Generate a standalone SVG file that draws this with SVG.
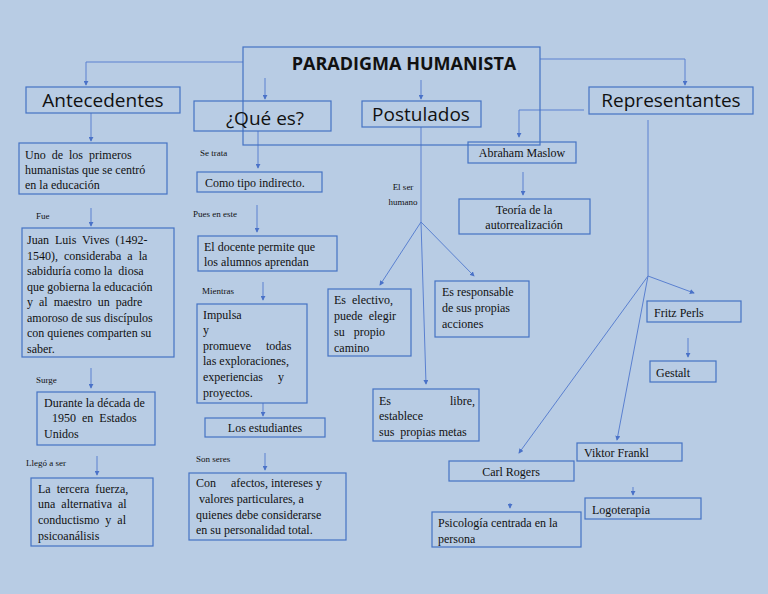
<svg xmlns="http://www.w3.org/2000/svg" width="768" height="594" viewBox="0 0 768 594">
<defs>
<marker id="a" viewBox="0 0 6 6" refX="5" refY="3" markerWidth="5" markerHeight="5" orient="auto"><path d="M0,0L6,3L0,6z" fill="#4a72c8"/></marker>
<style>
.b{fill:none;stroke:#4472c4;stroke-width:1.2}
.l{fill:none;stroke:#5a80d0;stroke-width:1}
.h{font-family:"Open Sans","DejaVu Sans",sans-serif;font-size:19px;fill:#111}
.t{font-family:"Liberation Serif",serif;font-size:12px;fill:#111;white-space:pre}
.s{font-family:"Liberation Serif",serif;font-size:9px;fill:#111}
</style>
</defs>
<rect width="768" height="594" fill="#b8cce4"/>
<g id="connectors" class="l">
<path d="M243,62H86V85" marker-end="url(#a)"/>
<path d="M265,78V99" marker-end="url(#a)"/>
<path d="M421,80V99" marker-end="url(#a)"/>
<path d="M540,59H685V85" marker-end="url(#a)"/>
<path d="M584,110H519V137" marker-end="url(#a)"/>
<path d="M523,172V195" marker-end="url(#a)"/>
<path d="M91,113V141" marker-end="url(#a)"/>
<path d="M91,208V226" marker-end="url(#a)"/>
<path d="M91,368V388" marker-end="url(#a)"/>
<path d="M97,456V475" marker-end="url(#a)"/>
<path d="M258,131V168" marker-end="url(#a)"/>
<path d="M257,205V232" marker-end="url(#a)"/>
<path d="M263,282V300" marker-end="url(#a)"/>
<path d="M263,403V416" marker-end="url(#a)"/>
<path d="M265,453V470" marker-end="url(#a)"/>
<path d="M421,127V222"/>
<path d="M421,222L380,285" marker-end="url(#a)"/>
<path d="M421,222L474,276" marker-end="url(#a)"/>
<path d="M421,222L426,384" marker-end="url(#a)"/>
<path d="M648,120V276"/>
<path d="M648,276L694,293" marker-end="url(#a)"/>
<path d="M648,276L519,453" marker-end="url(#a)"/>
<path d="M648,276L617,440" marker-end="url(#a)"/>
<path d="M688,338V357" marker-end="url(#a)"/>
<path d="M510,503V508" marker-end="url(#a)"/>
<path d="M633,487V495" marker-end="url(#a)"/>
</g>
<g id="title"><rect class="b" x="243" y="47" width="297" height="98"/><text x="404" y="70" text-anchor="middle" class="h" style="font-weight:bold;font-size:18px">PARADIGMA HUMANISTA</text></g>
<g id="antecedentes"><rect class="b" x="26" y="87" width="154" height="26"/><text x="103" y="107" text-anchor="middle" class="h">Antecedentes</text></g>
<g id="quees"><rect class="b" x="194" y="101" width="137" height="30"/><text x="265" y="125" text-anchor="middle" class="h">¿Qué es?</text></g>
<g id="postulados"><rect class="b" x="362" y="101" width="119" height="26"/><text x="421" y="121" text-anchor="middle" class="h">Postulados</text></g>
<g id="representantes"><rect class="b" x="589" y="87" width="164" height="27"/><text x="671" y="107" text-anchor="middle" class="h">Representantes</text></g>
<g id="maslow"><rect class="b" x="468" y="142" width="108" height="21"/><text x="522" y="157" text-anchor="middle" class="t">Abraham Maslow</text></g>
<g id="teoria"><rect class="b" x="459" y="199" width="131" height="35"/><text x="524" y="214" text-anchor="middle" class="t">Teoría de la</text><text x="524" y="229" text-anchor="middle" class="t">autorrealización</text></g>
<g id="uno"><rect class="b" x="19" y="143" width="148" height="51"/><text x="25" y="159" class="t">Uno  de  los  primeros</text><text x="25" y="174" class="t">humanistas que se centró</text><text x="25" y="189" class="t">en la educación</text></g>
<g id="lbl-fue"><text x="36" y="219" class="s">Fue</text></g>
<g id="juan"><rect class="b" x="22" y="228" width="152" height="129"/>
<text x="27" y="244" class="t">Juan  Luis  Vives  (1492-</text><text x="27" y="260" class="t">1540),  consideraba  a  la</text><text x="27" y="275" class="t">sabiduría como la  diosa</text><text x="27" y="291" class="t">que gobierna la educación</text><text x="27" y="306" class="t">y  al  maestro  un  padre</text><text x="27" y="322" class="t">amoroso de sus discípulos</text><text x="27" y="337" class="t">con quienes comparten su</text><text x="27" y="353" class="t">saber.</text></g>
<g id="lbl-surge"><text x="36" y="383" class="s">Surge</text></g>
<g id="durante"><rect class="b" x="37" y="392" width="118" height="53"/><text x="44" y="407" class="t">Durante la década de</text><text x="52" y="422" class="t">1950  en  Estados</text><text x="44" y="438" class="t">Unidos</text></g>
<g id="lbl-llego"><text x="26" y="466" class="s">Llegó a ser</text></g>
<g id="tercera"><rect class="b" x="31" y="478" width="122" height="68"/><text x="38" y="493" class="t">La  tercera  fuerza,</text><text x="38" y="508" class="t">una  alternativa  al</text><text x="38" y="524" class="t">conductismo  y  al</text><text x="38" y="540" class="t">psicoanálisis</text></g>
<g id="lbl-setrata"><text x="200" y="156" class="s">Se trata</text></g>
<g id="como"><rect class="b" x="197" y="172" width="125" height="20"/><text x="205" y="187" class="t">Como tipo indirecto.</text></g>
<g id="lbl-pues"><text x="193" y="217" class="s">Pues en este</text></g>
<g id="docente"><rect class="b" x="198" y="236" width="139" height="35"/><text x="204" y="251" class="t">El docente permite que</text><text x="204" y="266" class="t">los alumnos aprendan</text></g>
<g id="lbl-mientras"><text x="202" y="294" class="s">Mientras</text></g>
<g id="impulsa"><rect class="b" x="197" y="304" width="110" height="99"/><text x="203" y="319" class="t">Impulsa</text><text x="203" y="334" class="t">y</text><text x="203" y="350" class="t">promueve     todas</text><text x="203" y="365" class="t">las exploraciones,</text><text x="203" y="381" class="t">experiencias     y</text><text x="203" y="397" class="t">proyectos.</text></g>
<g id="estudiantes"><rect class="b" x="205" y="418" width="120" height="19"/><text x="265" y="432" text-anchor="middle" class="t">Los estudiantes</text></g>
<g id="lbl-son"><text x="196" y="462" class="s">Son seres</text></g>
<g id="con"><rect class="b" x="189" y="473" width="157" height="67"/><text x="196" y="487" class="t">Con     afectos, intereses y</text><text x="196" y="503" class="t"> valores particulares, a</text><text x="196" y="519" class="t">quienes debe considerarse</text><text x="196" y="534" class="t">en su personalidad total.</text></g>
<g id="lbl-ser"><text x="403" y="190" text-anchor="middle" class="s">El ser</text><text x="403" y="205" text-anchor="middle" class="s">humano</text></g>
<g id="electivo"><rect class="b" x="328" y="289" width="83" height="67"/><text x="334" y="304" class="t">Es  electivo,</text><text x="334" y="320" class="t">puede  elegir</text><text x="334" y="336" class="t">su   propio</text><text x="334" y="352" class="t">camino</text></g>
<g id="responsable"><rect class="b" x="435" y="281" width="94" height="56"/><text x="442" y="296" class="t">Es responsable</text><text x="442" y="312" class="t">de sus propias</text><text x="442" y="328" class="t">acciones</text></g>
<g id="libre"><rect class="b" x="373" y="389" width="106" height="52"/><text x="379" y="405" class="t">Es</text><text x="475" y="405" text-anchor="end" class="t">libre,</text><text x="379" y="420" class="t">establece</text><text x="379" y="436" class="t">sus  propias metas</text></g>
<g id="fritz"><rect class="b" x="647" y="301" width="94" height="21"/><text x="654" y="317" class="t">Fritz Perls</text></g>
<g id="gestalt"><rect class="b" x="650" y="361" width="66" height="21"/><text x="656" y="377" class="t">Gestalt</text></g>
<g id="rogers"><rect class="b" x="449" y="461" width="125" height="20"/><text x="511" y="476" text-anchor="middle" class="t">Carl Rogers</text></g>
<g id="frankl"><rect class="b" x="577" y="443" width="105" height="18"/><text x="584" y="457" class="t">Viktor Frankl</text></g>
<g id="psicologia"><rect class="b" x="432" y="512" width="149" height="35"/><text x="438" y="527" class="t">Psicología centrada en la</text><text x="438" y="543" class="t">persona</text></g>
<g id="logoterapia"><rect class="b" x="585" y="498" width="116" height="21"/><text x="592" y="514" class="t">Logoterapia</text></g>
</svg>
